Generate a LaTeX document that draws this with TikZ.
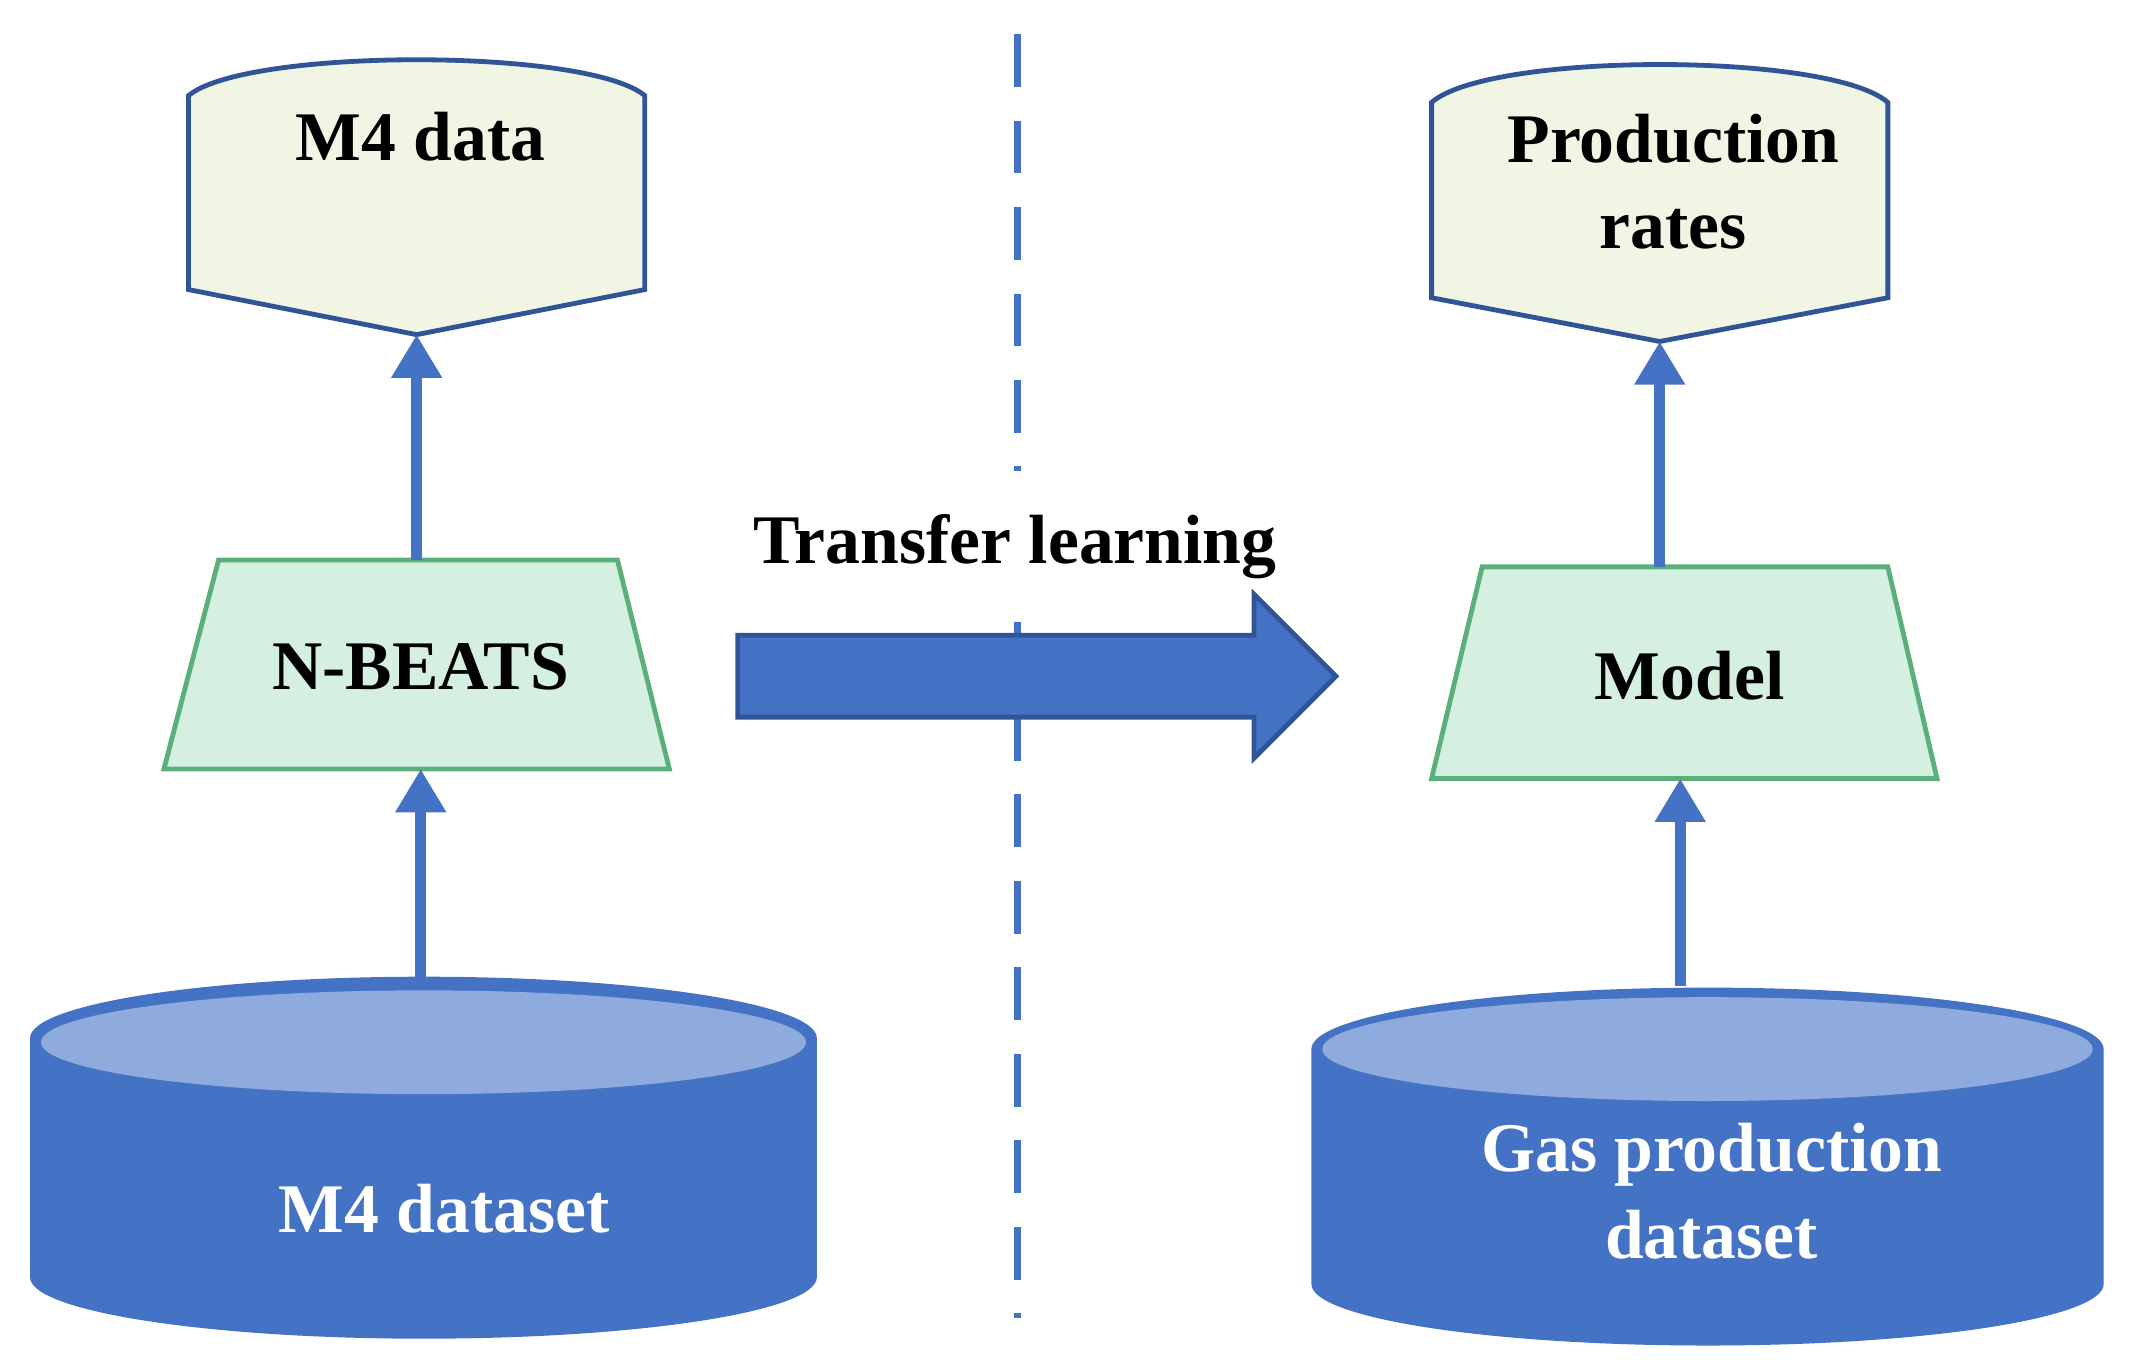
\documentclass[tikz,border=0pt]{standalone}
\usepackage{fontspec}
\setmainfont{Liberation Serif}
\usetikzlibrary{arrows.meta}
\definecolor{mblue}{HTML}{4472C4}
\definecolor{dblue}{HTML}{2F5597}
\definecolor{lblue}{HTML}{8FAADC}
\definecolor{lyel}{HTML}{F0F5E4}
\definecolor{lgrn}{HTML}{D5EFE0}
\definecolor{bgrn}{HTML}{5BAF7A}
\tikzset{
 lbl/.style={font=\fontsize{14.5}{16}\selectfont\bfseries, align=center, inner sep=0pt},
 flow/.style={draw=mblue, line width=2.3pt, -{Triangle[length=9pt,width=10pt]}},
 outbox/.style={draw=dblue, line width=1pt, fill=lyel},
 trap/.style={draw=bgrn, line width=1pt, fill=lgrn},
 divider/.style={mblue, line width=1.4pt, dash pattern=on 11pt off 7pt},
}
\begin{document}
\begin{tikzpicture}[x=0.01cm,y=-0.01cm]
\useasboundingbox (0,0) rectangle (1560,1004);
% dashed divider
\draw[divider] (745,25) -- (745,345);
\draw[divider] (745,455) -- (745,965);
% left output
\draw[outbox] (138,212) -- (138,70) .. controls (180,35) and (430,35) .. (472,70) -- (472,212) -- (305,245) -- cycle;
\node[lbl] (m4d) at (308,100) {M4 data};
\coordinate (m4b) at (305,245);
% N-BEATS
\draw[trap] (160,410) -- (452,410) -- (490,563) -- (120,563) -- cycle;
\node[lbl] (nb) at (308,488) {N-BEATS};
\coordinate (nbt) at (305,410);
\coordinate (nbb) at (308,563);
% left cylinder
\fill[mblue] (22,760) -- (22,935) arc[start angle=180,end angle=0,x radius=288,y radius=45] -- (598,760) arc[start angle=0,end angle=-180,x radius=288,y radius=45];
\fill[lblue] (310,763) ellipse[x radius=280, y radius=38];
\node[lbl, text=white] (c1) at (325,885) {M4 dataset};
\coordinate (c1t) at (308,716);
% right output
\draw[outbox] (1048,218) -- (1048,75) .. controls (1090,38) and (1340,38) .. (1382,75) -- (1382,218) -- (1215,250) -- cycle;
\node[lbl] (pr) at (1225,133) {Production\\[2pt]rates};
\coordinate (prb) at (1215,250);
% Model
\draw[trap] (1085,415) -- (1382,415) -- (1418,570) -- (1048,570) -- cycle;
\node[lbl] (md) at (1237,495) {Model};
\coordinate (mdt) at (1215,415);
\coordinate (mdb) at (1230,570);
% right cylinder
\fill[mblue] (960,768) -- (960,940) arc[start angle=180,end angle=0,x radius=290,y radius=45] -- (1540,768) arc[start angle=0,end angle=-180,x radius=290,y radius=45];
\fill[lblue] (1250,768) ellipse[x radius=282, y radius=38];
\node[lbl, text=white] (c2) at (1253,872) {Gas production\\[2pt]dataset};
\coordinate (c2t) at (1230,722);
% flows
\draw[flow] (nbt) -- (m4b);
\draw[flow] (c1t) -- (nbb);
\draw[flow] (mdt) -- (prb);
\draw[flow] (c2t) -- (mdb);
% transfer arrow
\draw[fill=mblue, draw=dblue, line width=1pt] (540,465) -- (918,465) -- (918,435) -- (978,495) -- (918,555) -- (918,525) -- (540,525) -- cycle;
\node[lbl] (tl) at (743,400) {Transfer learning};
\end{tikzpicture}
\end{document}
